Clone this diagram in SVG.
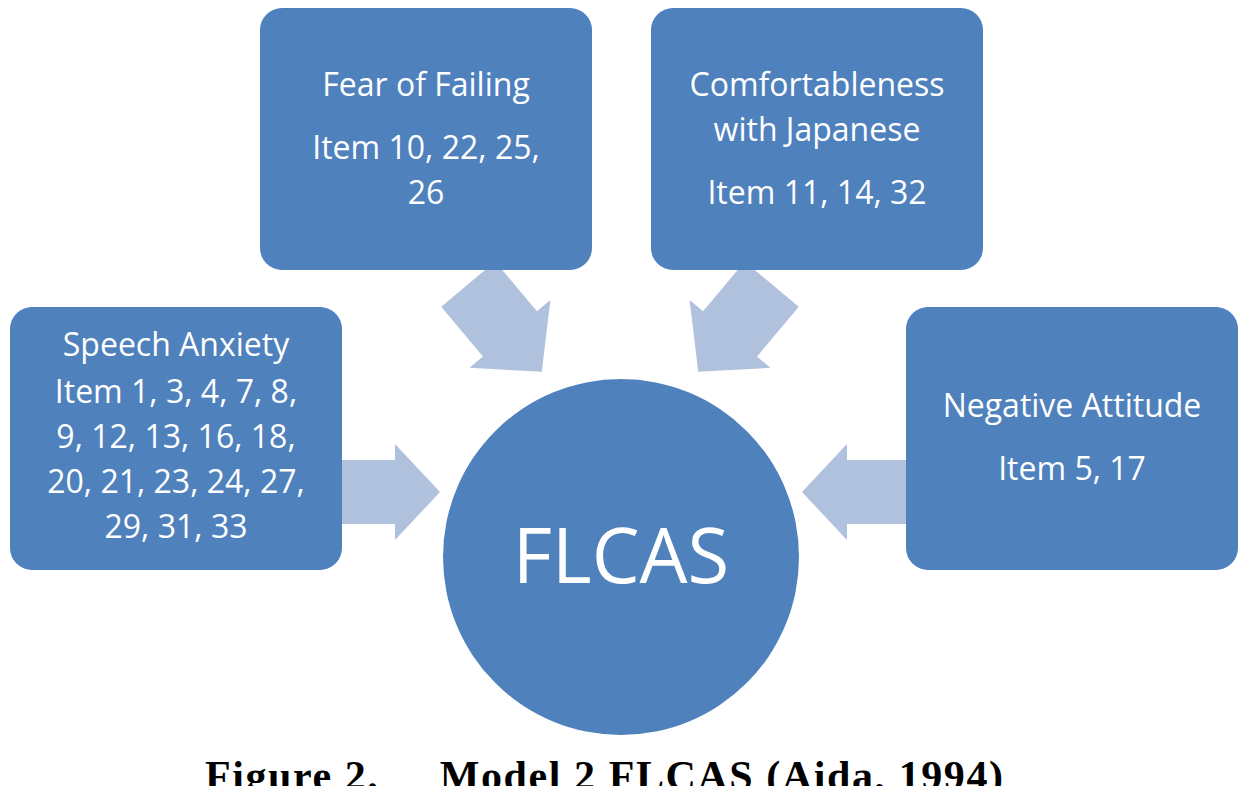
<svg xmlns="http://www.w3.org/2000/svg" width="1241" height="786" viewBox="0 0 1241 786">
<style>
.box{fill:#4F81BD}
.arr{fill:#AFC1DC}
.t{font-family:"Open Sans",Lato,sans-serif;font-size:32px;fill:#fff;text-anchor:middle}
.cap{font-family:"Liberation Serif",serif;font-weight:bold;font-size:42px;fill:#000}
</style>
<defs><polygon id="a" points="-52,-32 7,-32 7,-48 52,0 7,48 7,32 -52,32"/></defs>
<rect width="1241" height="786" fill="#fff"/>
<g id="connectors">
<use href="#a" class="arr" transform="translate(388,492)"/>
<use href="#a" class="arr" transform="translate(854,492) rotate(180)"/>
<use href="#a" class="arr" transform="translate(505,328) rotate(50) scale(1.1)"/>
<use href="#a" class="arr" transform="translate(735,328) rotate(130) scale(1.1)"/>
</g>
<g id="flcas"><circle class="box" cx="621" cy="557" r="178"/><text class="t" x="621" y="583" style="font-size:76px">FLCAS</text></g>
<g id="speech"><rect class="box" x="10" y="307" width="332" height="263" rx="22"/>
<text class="t" x="176" y="356">Speech Anxiety</text>
<text class="t" x="176" y="403">Item 1, 3, 4, 7, 8,</text>
<text class="t" x="176" y="448">9, 12, 13, 16, 18,</text>
<text class="t" x="176" y="493">20, 21, 23, 24, 27,</text>
<text class="t" x="176" y="538">29, 31, 33</text></g>
<g id="fear"><rect class="box" x="260" y="8" width="332" height="262" rx="22"/>
<text class="t" x="426" y="96">Fear of Failing</text>
<text class="t" x="426" y="159">Item 10, 22, 25,</text>
<text class="t" x="426" y="204">26</text></g>
<g id="comfort"><rect class="box" x="651" y="8" width="332" height="262" rx="22"/>
<text class="t" x="817" y="96">Comfortableness</text>
<text class="t" x="817" y="141">with Japanese</text>
<text class="t" x="817" y="204">Item 11, 14, 32</text></g>
<g id="negative"><rect class="box" x="906" y="307" width="332" height="263" rx="22"/>
<text class="t" x="1072" y="417">Negative Attitude</text>
<text class="t" x="1072" y="480">Item 5, 17</text></g>
<text class="cap" x="205" y="790" textLength="798" xml:space="preserve">Figure 2.     Model 2 FLCAS (Aida, 1994)</text>
</svg>
